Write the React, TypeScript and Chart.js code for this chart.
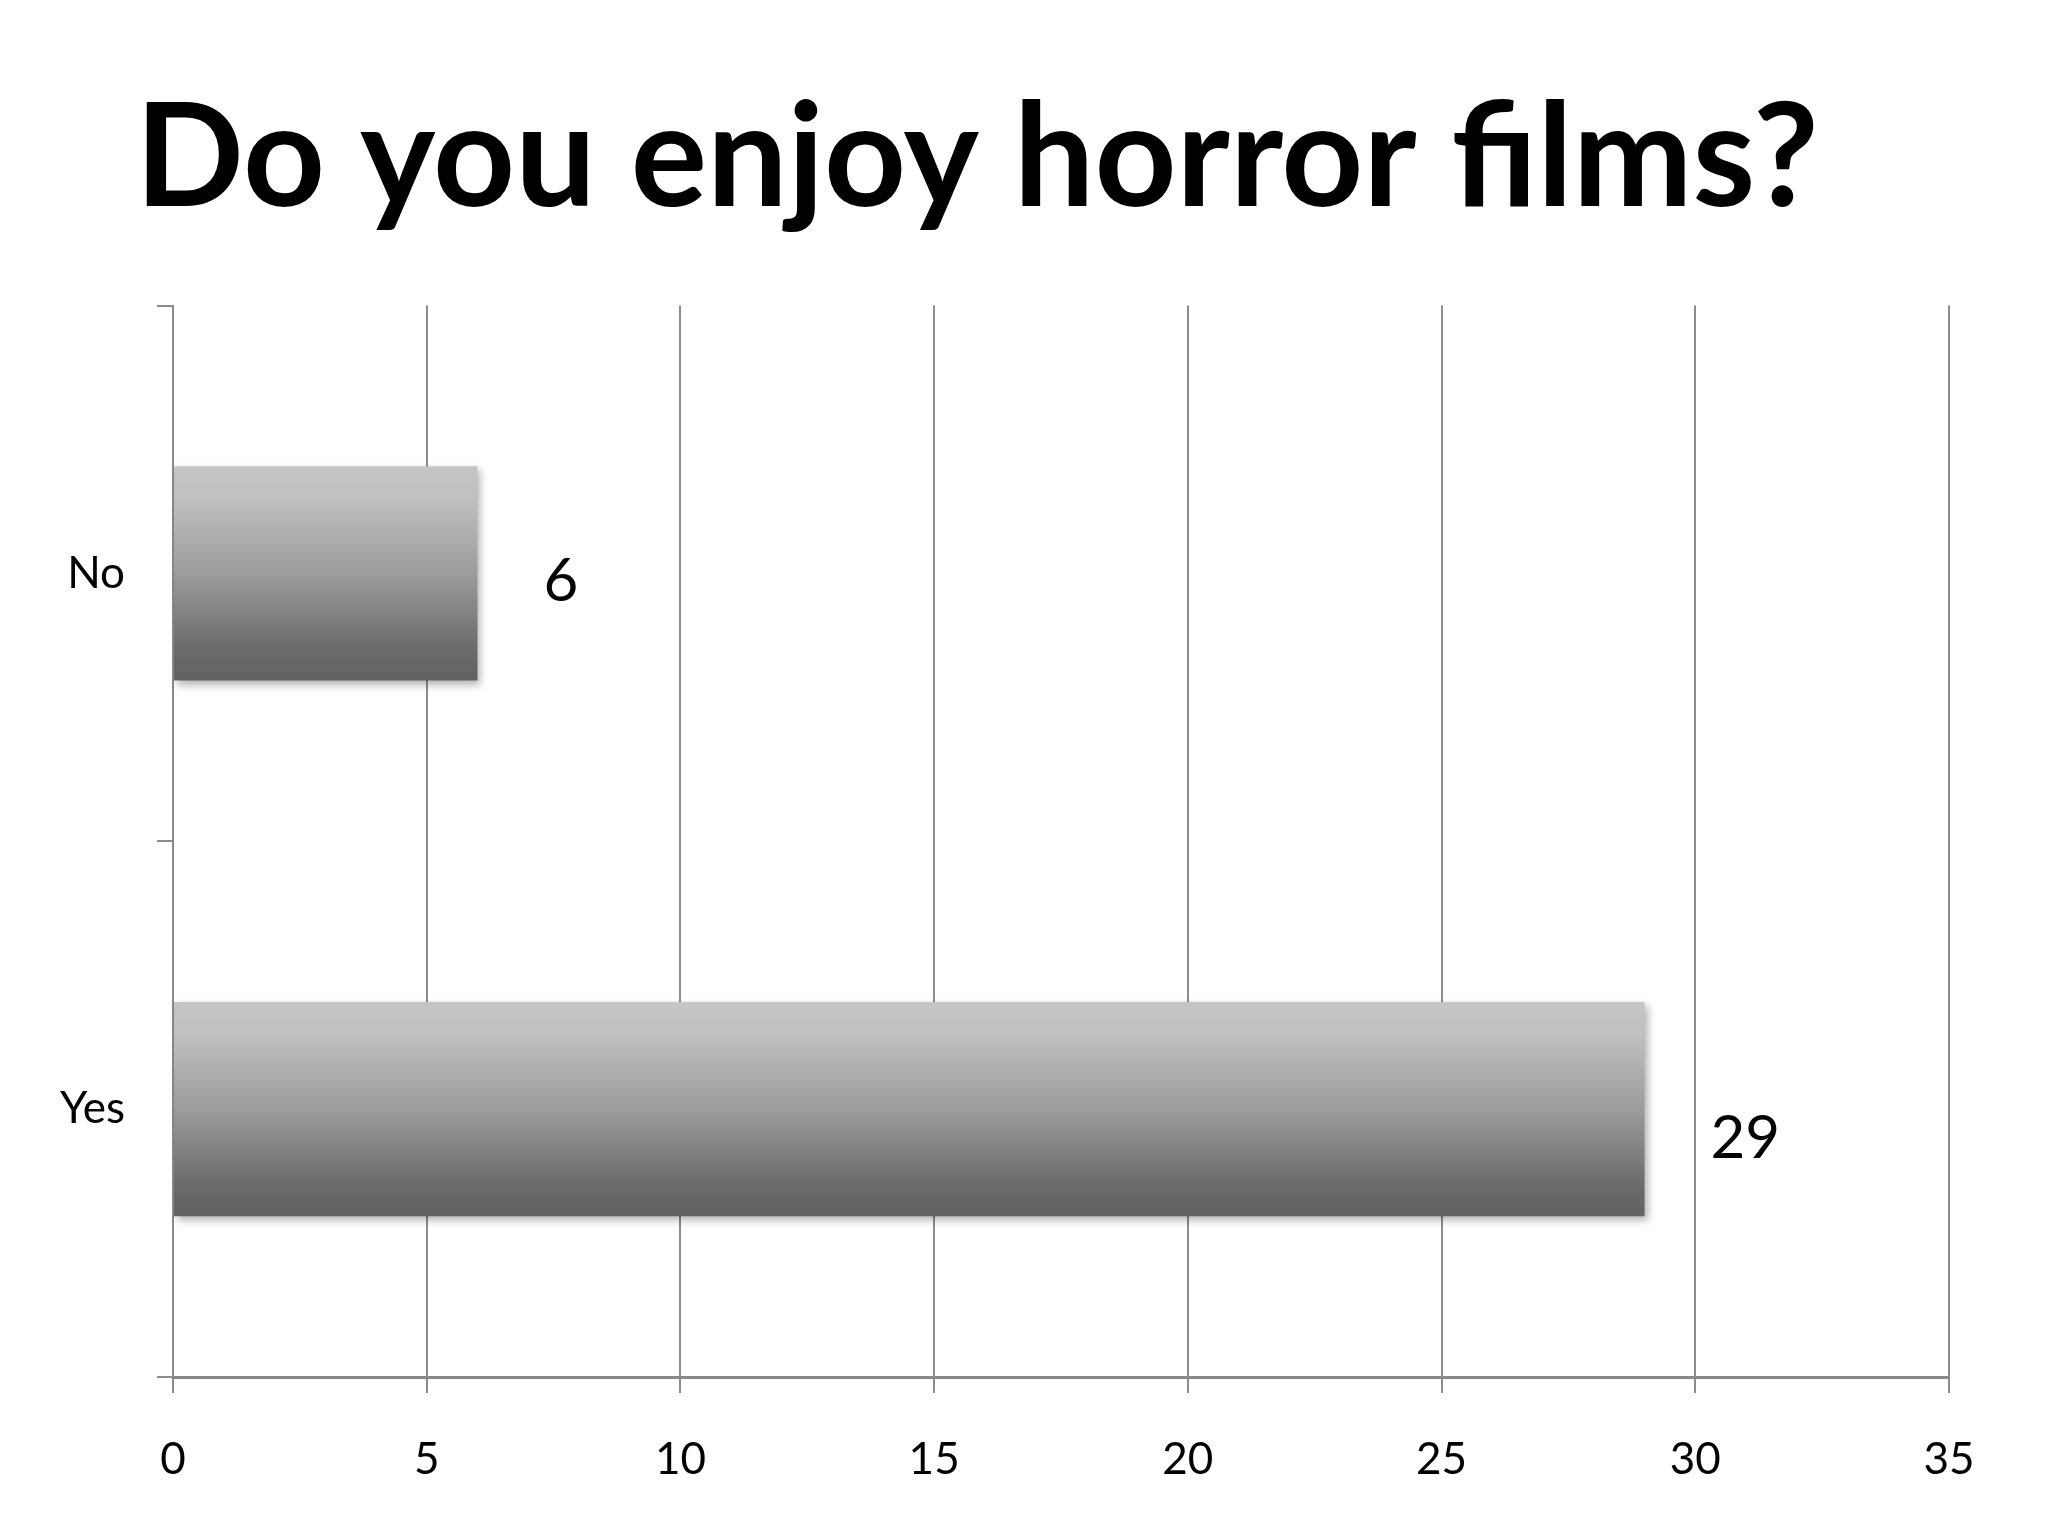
import React, { useEffect, useRef } from "react";
import { Chart, registerables } from "chart.js";

Chart.register(...registerables);

const TITLE = "Do you enjoy horror films?";
const categories = ["No", "Yes"];
const values = [6, 29];
const xMin = 0;
const xMax = 35;
const xStep = 5;

const FONT = "Lato, 'Open Sans', sans-serif";

const barShadow = {
  id: "barShadow",
  beforeDatasetsDraw(chart: any) {
    const ctx = chart.ctx;
    ctx.save();
    ctx.shadowColor = "rgba(0,0,0,0.30)";
    ctx.shadowBlur = 8;
    ctx.shadowOffsetX = 3;
    ctx.shadowOffsetY = 4;
  },
  afterDatasetsDraw(chart: any) {
    chart.ctx.restore();
  },
};

const valueLabels = {
  id: "valueLabels",
  afterDraw(chart: any) {
    const ctx = chart.ctx;
    const meta = chart.getDatasetMeta(0);
    const dys = [8, 30];
    ctx.save();
    ctx.font = `60px ${FONT}`;
    ctx.fillStyle = "#000";
    ctx.textAlign = "left";
    ctx.textBaseline = "middle";
    meta.data.forEach((bar: any, i: number) => {
      const v = chart.data.datasets[0].data[i];
      ctx.fillText(String(v), bar.x + 66, bar.y + (dys[i] || 0));
    });
    ctx.restore();
  },
};

function barGradient(context: any) {
  const chart = context.chart;
  const yScale = chart.scales?.y;
  if (!yScale || !chart.chartArea) return "#999";
  const idx = context.dataIndex ?? 0;
  const center = yScale.getPixelForValue(idx);
  const band = (yScale.bottom - yScale.top) / categories.length;
  const half = (band * 0.4) / 2;
  const g = chart.ctx.createLinearGradient(0, center - half, 0, center + half);
  g.addColorStop(0, "#c5c5c5");
  g.addColorStop(0.15, "#c0c0c0");
  g.addColorStop(0.5, "#9c9c9c");
  g.addColorStop(0.85, "#6b6b6b");
  g.addColorStop(1, "#626262");
  return g;
}

export default function App() {
  const ref = useRef<HTMLCanvasElement>(null);

  useEffect(() => {
    document.body.style.margin = "0";
    document.body.style.overflow = "hidden";
    const canvas = ref.current;
    if (!canvas) return;
    const chart = new Chart(canvas, {
      type: "bar",
      data: {
        labels: categories,
        datasets: [
          {
            data: values,
            backgroundColor: barGradient,
            borderWidth: 0,
            barPercentage: 0.5,
            categoryPercentage: 0.8,
          },
        ],
      },
      plugins: [barShadow, valueLabels],
      options: {
        indexAxis: "y",
        animation: false,
        responsive: false,
        devicePixelRatio: 1,
        layout: { padding: { left: 5, right: 99, top: 0, bottom: 0 } },
        plugins: {
          legend: { display: false },
          tooltip: { enabled: false },
          title: {
            display: true,
            text: TITLE,
            color: "#000",
            font: { family: FONT, size: 143, weight: "bold", lineHeight: 1.2 },
            padding: { top: 74, bottom: 60 },
          },
        },
        scales: {
          x: {
            type: "linear",
            min: xMin,
            max: xMax,
            ticks: {
              stepSize: xStep,
              color: "#000",
              font: { family: FONT, size: 44 },
              padding: 40,
            },
            grid: {
              color: "#8c8c8c",
              lineWidth: 2,
              tickLength: 16,
              drawOnChartArea: true,
            },
            border: { display: true, color: "#8a8a8a", width: 3 },
            afterFit(scale: any) {
              scale.height = 159;
            },
          },
          y: {
            type: "category",
            ticks: {
              color: "#000",
              font: { family: FONT, size: 44 },
              padding: 32,
            },
            grid: {
              color: "#8c8c8c",
              lineWidth: 2,
              tickLength: 16,
              drawOnChartArea: false,
              offset: true,
            },
            border: { display: true, color: "#8a8a8a", width: 2 },
            afterFit(scale: any) {
              scale.width = 168;
            },
          },
        },
      },
    } as any);
    return () => chart.destroy();
  }, []);

  return (
    <div style={{ width: 2048, height: 1536, background: "#fff" }}>
      <canvas ref={ref} width={2048} height={1536} style={{ display: "block" }} />
    </div>
  );
}
